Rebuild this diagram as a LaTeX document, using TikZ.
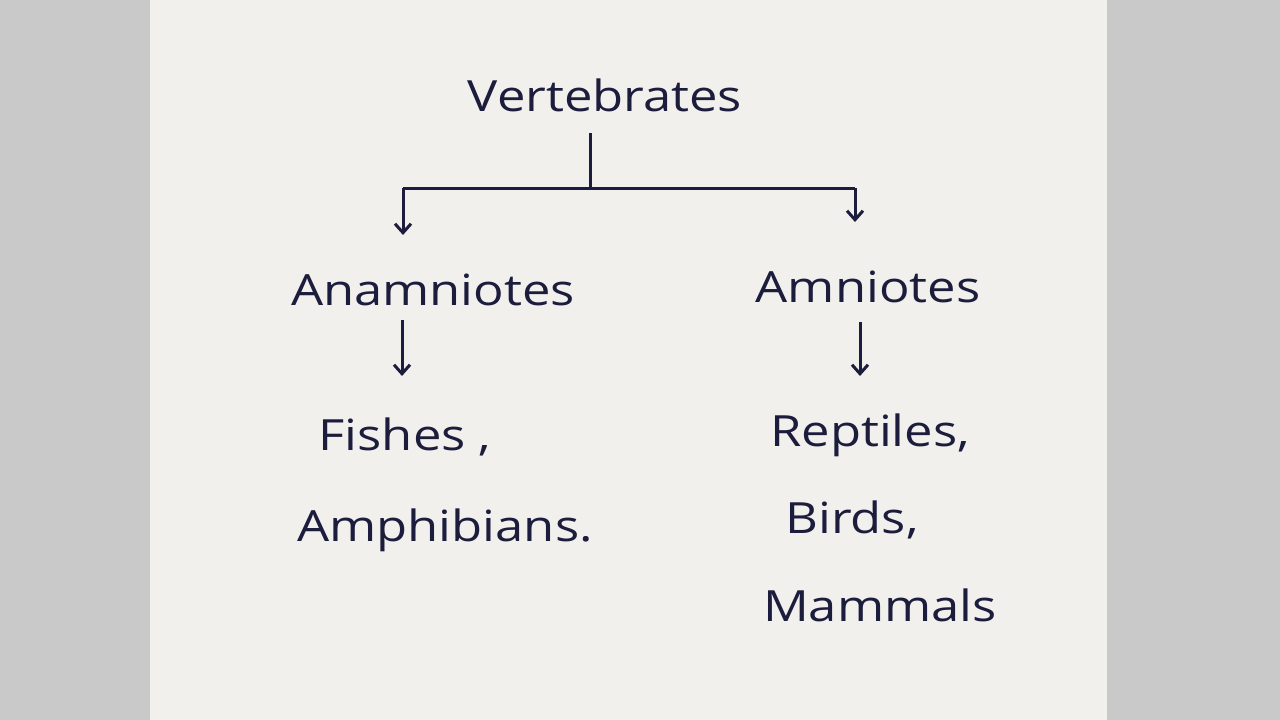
\documentclass[tikz,border=0pt]{standalone}
\usepackage{fontspec}
\setmainfont{Open Sans}
\usetikzlibrary{arrows.meta}
\definecolor{ink}{HTML}{1C1C3C}
\definecolor{paper}{HTML}{F1F0EC}
\definecolor{side}{HTML}{C9C9C9}
\begin{document}
\begin{tikzpicture}[x=1pt,y=-1pt,
  lbl/.style={text=ink,font=\fontsize{43}{50}\selectfont,inner sep=0pt,xscale=1.18},
  con/.style={draw=ink,line width=3pt},
  arr/.style={con,-{Straight Barb[length=9pt,width=16pt,line width=3pt]}}]
\fill[side] (0,0) rectangle (1280,720);
\fill[paper] (150,0) rectangle (1107,720);
\useasboundingbox (0,0) rectangle (1280,720);
\node[lbl] (v) at (605,95) {Vertebrates};
\node[lbl] (an) at (433,290) {Anamniotes};
\node[lbl] (am) at (868,287) {Amniotes};
\node[lbl] (f) at (405,437) {Fishes ,};
\node[lbl] (amph) at (445,530) {Amphibians.};
\node[lbl] (r) at (870,435) {Reptiles,};
\node[lbl] (b) at (852,520) {Birds,};
\node[lbl] (m) at (880,605) {Mammals};
\coordinate (j) at (590,188);
\coordinate (jl) at (403,188);
\coordinate (jr) at (855,188);
\draw[con] (590,133) -- (j);
\draw[con] (jl) -- (jr);
\draw[arr] (jl) -- (403,235);
\draw[arr] (jr) -- (855,222);
\draw[arr] (402,320) -- (402,376);
\draw[arr] (860,322) -- (860,376);
\end{tikzpicture}
\end{document}
